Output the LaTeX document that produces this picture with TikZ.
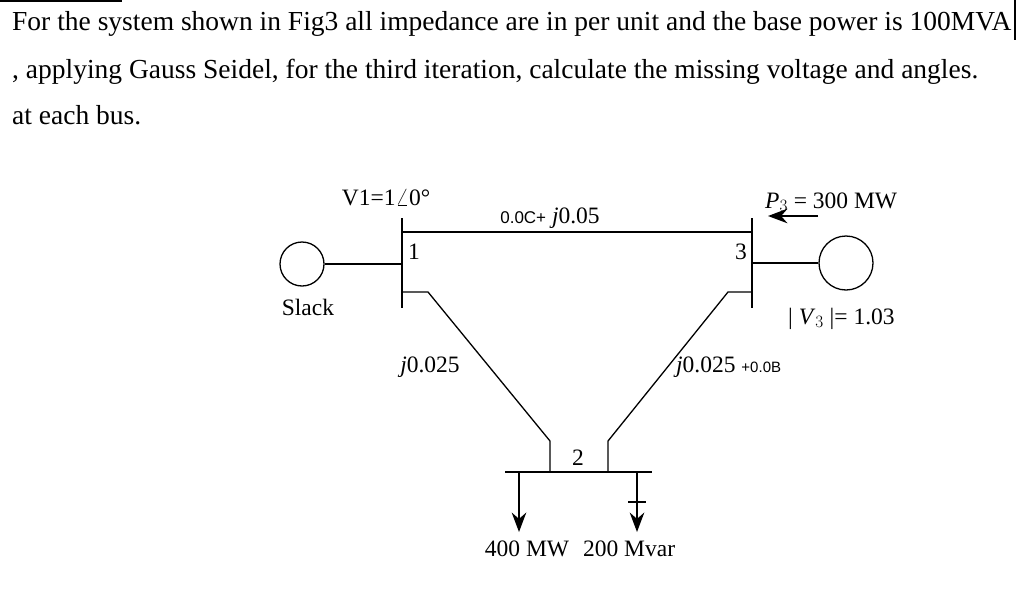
\documentclass[tikz,border=0pt]{standalone}
\usepackage{fontspec}
\setmainfont{Liberation Serif}
\setsansfont{Liberation Sans}
\usetikzlibrary{arrows.meta}
\begin{document}
\begin{tikzpicture}[x=1pt,y=-1pt,
  ln/.style={line width=1.3pt},
  txt/.style={inner sep=0pt,font=\fontsize{27.5}{32}\selectfont},
  lab/.style={inner sep=0pt,font=\fontsize{23.5}{27}\selectfont},
  arr/.style={ln,-{Stealth[scale=2.2]}}]
\useasboundingbox (0,0) rectangle (1019,613);
\draw[line width=1.2pt] (0,1) -- (122,1);
\draw[line width=1.2pt] (1015,0) -- (1015,40);
\node[txt,anchor=base west] (t1) at (12,30) {For the system shown in Fig3 all impedance are in per unit and the base power is 100MVA};
\node[txt,anchor=base west] (t2) at (12,78) {, applying Gauss Seidel, for the third iteration, calculate the missing voltage and angles.};
\node[txt,anchor=base west] (t3) at (12,124) {at each bus.};
% buses
\coordinate (b1t) at (402,218); \coordinate (b1b) at (402,308);
\coordinate (b3t) at (752,218); \coordinate (b3b) at (752,308);
\draw[ln] (b1t) -- (b1b);
\draw[ln] (b3t) -- (b3b);
\draw[ln] (402,232) -- (752,232);
\node[draw,circle,ln,minimum size=44pt,inner sep=0pt] (g1) at (302,264) {};
\node[draw,circle,ln,minimum size=54pt,inner sep=0pt] (g3) at (846,263) {};
\draw[ln] (g1.east) -- (402,264);
\draw[ln] (752,263) -- (g3.west);
\coordinate (b2l) at (505,472); \coordinate (b2r) at (652,472);
\draw[ln] (b2l) -- (b2r);
\draw[ln] (402,292) -- (428,292) -- (550,441) -- (550,472);
\draw[ln] (752,292) -- (728,292) -- (608,441) -- (608,472);
\draw[arr] (519,472) -- (519,532);
\draw[arr] (637,472) -- (637,532);
\draw[ln] (628,502) -- (646,502);
\draw[arr] (818,216) -- (768,216);
% labels
\node[lab,anchor=base west] (n1) at (408,259) {1};
\node[lab,anchor=base east] (n3) at (747,259) {3};
\node[lab,anchor=base] (n2) at (578,465) {2};
\node[lab,anchor=base] (sl) at (308,315) {Slack};
\node[lab,anchor=base] (v1) at (386,205) {V1=1$\angle$0°};
\node[lab,anchor=base] (z13) at (550,223) {{\sffamily\fontsize{17}{20}\selectfont 0.0C+} \textit{j}0.05};
\node[lab,anchor=base west] (p3) at (765,208) {\textit{P}$_{3}$ = 300 MW};
\node[lab,anchor=base west] (v3) at (788,324) {| \textit{V}$_{3}$ |= 1.03};
\node[lab,anchor=base] (z12) at (430,372) {\textit{j}0.025};
\node[lab,anchor=base west] (z23) at (676,372) {\textit{j}0.025 {\sffamily\fontsize{15}{18}\selectfont +0.0B}};
\node[lab,anchor=base] (ld) at (580,556) {400 MW\hspace{14pt}200 Mvar};
\end{tikzpicture}
\end{document}
